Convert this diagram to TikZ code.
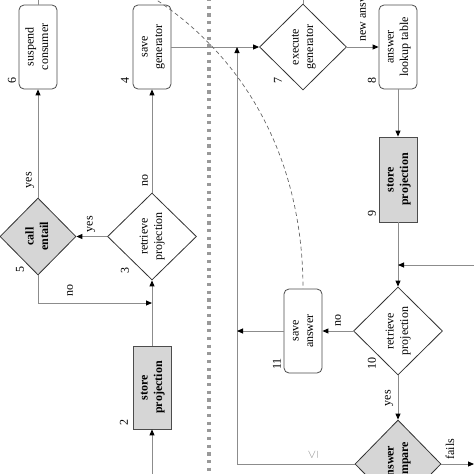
\documentclass[tikz,border=0pt]{standalone}
\usepackage{fontspec}
\setmainfont{Liberation Serif}
\usepackage{graphicx}
\usetikzlibrary{shapes.geometric,arrows.meta}
\newcommand\rtx[1]{\rotatebox{90}{\begin{tabular}{@{}c@{}}#1\end{tabular}}}
\begin{document}
\begin{tikzpicture}[x=1pt,y=-1pt,
  font=\fontsize{12}{14.5}\selectfont,
  box/.style={draw=black!70, line width=0.8pt, rounded corners=5pt, minimum width=38pt, minimum height=84pt, inner sep=0pt, fill=white},
  gbox/.style={draw=black!70, line width=0.8pt, fill=black!16, minimum width=38pt, minimum height=84pt, inner sep=0pt, font=\fontsize{12}{14.5}\selectfont\bfseries},
  dia/.style={diamond, draw=black!80, line width=0.8pt, inner sep=0pt, minimum width=89pt, minimum height=88pt, fill=white},
  gdia/.style={dia, fill=black!16, font=\fontsize{12}{14.5}\selectfont\bfseries},
  conn/.style={draw=black!45, line width=0.9pt},
  arr/.style={conn, -{Triangle[length=6pt,width=5pt,color=black]}},
  lab/.style={rotate=90, inner sep=0pt},
  sep/.style={draw=black!40, line width=3.2pt, dash pattern=on 3.2pt off 4.5pt},
  dcurve/.style={draw=black!60, line width=0.7pt, dash pattern=on 4pt off 3pt},
]
\useasboundingbox (0,0) rectangle (474,474);
\clip (0,0) rectangle (474,474);

% separator
\draw[sep] (209,-2) -- (209,476);

% nodes
\node[box] (n6) at (38,47) {\rtx{suspend\\consumer}};
\node[box] (n4) at (152,47) {\rtx{save\\generator}};
\node[dia, minimum width=87pt, minimum height=86pt] (n7) at (303,47) {\rtx{execute\\generator}};
\node[box] (n8) at (398,47) {\rtx{answer\\lookup table}};
\node[gbox, minimum height=85pt] (n9) at (398,179.5) {\rtx{store\\projection}};
\node[dia] (n10) at (398,331) {\rtx{retrieve\\projection}};
\node[box] (n11) at (303,331) {\rtx{save\\answer}};
\node[gdia, minimum width=86pt] (n12) at (398,464) {\rtx{answer\\compare}};
\node[gbox, minimum height=83pt] (n2) at (152,387.5) {\rtx{store\\projection}};
\node[dia, minimum height=87pt] (n3) at (152,236.5) {\rtx{retrieve\\projection}};
\node[gdia, minimum width=76pt, minimum height=77pt] (n5) at (38,236.5) {\rtx{call\\entail}};

% number labels
\node[lab] (l6) at (12,80) {6};
\node[lab] (l4) at (125,80) {4};
\node[lab] (l7) at (278,80) {7};
\node[lab] (l8) at (372,80) {8};
\node[lab] (l9) at (372,213) {9};
\node[lab] (l10) at (372,363) {10};
\node[lab] (l11) at (277,364) {11};
\node[lab] (l2) at (124,422) {2};
\node[lab] (l3) at (125,270) {3};
\node[lab] (l5) at (20,269) {5};

% helper coordinates
\coordinate (t6) at (38,0);
\coordinate (t7) at (303,0);
\coordinate (b2) at (152,474);
\coordinate (j1) at (152,303);
\coordinate (vtop) at (237,47);
\coordinate (v11) at (237,331);
\coordinate (rin) at (474,265);
\coordinate (rj) at (398,265);
\coordinate (rout) at (474,464);
\coordinate (dstart) at (152,-3);

% connectors
\draw[conn] (n6.north) -- (t6);
\draw[arr] (n5.north) -- (n6.south);
\draw[arr] (n3.north) -- (n4.south);
\draw[arr] (n3.west) -- (n5.east);
\draw[arr] (n5.south) |- (j1);
\draw[arr] (n2.north) -- (n3.south);
\draw[arr] (b2) -- (n2.south);
\draw[arr] (n4.east) -- (n7.west);
\draw[arr] (n12.west) -| (vtop);
\draw[arr] (n11.west) -- (v11);
\draw[arr] (n10.west) -- (n11.east);
\draw[arr] (n10.south) -- (n12.north);
\draw[arr] (n9.south) -- (n10.north);
\draw[arr] (rin) -- (rj);
\draw[arr] (n8.south) -- (n9.north);
\draw[arr] (n7.east) -- (n8.west);
\draw[conn] (n7.north) -- (t7);
\draw[arr] (n12.east) -- (rout);
\draw[dcurve] (dstart) .. controls (250,60) and (303,165) .. (n11.north);

% connector labels
\node[lab] (ly1) at (30,180) {yes};
\node[lab] (ln1) at (145,180) {no};
\node[lab] (ly2) at (91,224) {yes};
\node[lab] (ln2) at (70,290) {no};
\node[lab] (ly3) at (389,398) {yes};
\node[lab] (lno3) at (338,320) {no};
\node[lab, anchor=west] (lnew) at (363,42) {new answer};
\node[lab] (lfails) at (450,449) {fails};
\node[lab, text=black!45] (lle) at (313,455) {$\leq$};
\end{tikzpicture}
\end{document}
